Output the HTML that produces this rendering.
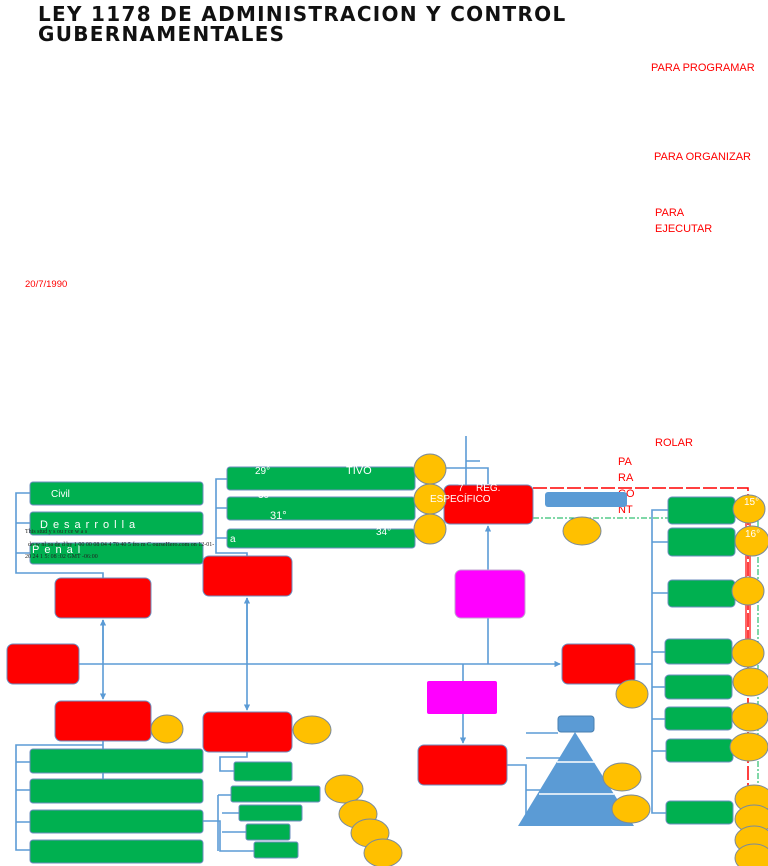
<!DOCTYPE html>
<html><head><meta charset="utf-8"><style>
html,body{margin:0;padding:0;background:#fff;width:768px;height:866px;overflow:hidden}
svg{display:block}
text{font-family:"Liberation Sans",sans-serif}
</style></head><body>
<svg width="768" height="866" viewBox="0 0 768 866" xmlns="http://www.w3.org/2000/svg">
<defs>
<marker id="a" markerWidth="4" markerHeight="4" refX="3.5" refY="2" orient="auto"><path d="M0,0L4,2L0,4z" fill="#5b9bd5"/></marker>
</defs>
<g font-weight="bold" font-size="20" fill="#111" letter-spacing="1.3">
<text x="38" y="21" style="font-family:'DejaVu Sans',sans-serif">LEY 1178 DE ADMINISTRACION Y CONTROL</text>
<text x="38" y="41" style="font-family:'DejaVu Sans',sans-serif">GUBERNAMENTALES</text>
</g>
<g fill="#ff0000" font-size="11">
<text x="651" y="71">PARA PROGRAMAR</text>
<text x="654" y="160">PARA ORGANIZAR</text>
<text x="655" y="216">PARA</text>
<text x="655" y="232">EJECUTAR</text>
<text x="25" y="287" font-size="9.5">20/7/1990</text>
<text x="655" y="446">ROLAR</text>
<text x="618" y="465">PA</text>
<text x="618" y="481">RA</text>
<text x="618" y="497">CO</text>
<text x="618" y="513">NT</text>
</g>
<g stroke="#5b9bd5" stroke-width="1.6" fill="none">
<path d="M466,436V461H480M466,461V487"/>
<path d="M446,468H488V487"/>
<path d="M30,493H16V573H103V578"/>
<path d="M16,523H30M16,553H30"/>
<path d="M227,479H216V553H227M216,508H227M216,538H227M216,553H247V556"/>
<path d="M79,664H560" marker-end="url(#a)"/>
<path d="M103,620V699" marker-end="url(#a)"/>
<path d="M103,660V620" marker-end="url(#a)"/>
<path d="M247,598V710" marker-end="url(#a)"/>
<path d="M247,660V598" marker-end="url(#a)"/>
<path d="M488,664V526" marker-end="url(#a)"/>
<path d="M463,664V681M463,714V743" marker-end="url(#a)"/>
<path d="M103,741V745H16V850H30M16,762H30M16,790H30M16,822H30M103,745V790H16"/>
<path d="M247,752V757H220V771H234"/>
<path d="M203,821H220V851H254M218,795V851M218,795H231M222,813H239M222,832H246"/>
<path d="M507,765H526V816H540M526,733H558M526,758H563M526,790H545"/>
<path d="M635,664H652V510H668M652,542H668M652,593H668M652,664V813H666M652,652H665M652,687H665M652,719H665M652,751H666"/>
</g>
<path d="M533,488H748V866" stroke="#ff0000" stroke-width="1.5" fill="none" stroke-dasharray="14,3"/>
<path d="M746,500V640M750,500V640" stroke="#ff0000" stroke-width="1.2" fill="none"/>
<path d="M533,518H758V800" stroke="#00b050" stroke-width="1" fill="none" stroke-dasharray="6,2,2,2"/>
<g fill="#00b050" stroke="#6c8ebf" stroke-width="1">
<rect x="30" y="482" width="173" height="23" rx="3"/>
<rect x="30" y="512" width="173" height="23" rx="3"/>
<rect x="30" y="543" width="173" height="21" rx="3"/>
<rect x="227" y="467" width="188" height="23" rx="3"/>
<rect x="227" y="497" width="188" height="23" rx="3"/>
<rect x="227" y="529" width="188" height="19" rx="3"/>
<rect x="668" y="497" width="67" height="27" rx="4"/>
<rect x="668" y="528" width="67" height="28" rx="4"/>
<rect x="668" y="580" width="67" height="27" rx="4"/>
<rect x="665" y="639" width="67" height="25" rx="4"/>
<rect x="665" y="675" width="67" height="24" rx="4"/>
<rect x="665" y="707" width="67" height="23" rx="4"/>
<rect x="666" y="739" width="67" height="23" rx="4"/>
<rect x="666" y="801" width="67" height="23" rx="4"/>
<rect x="30" y="749" width="173" height="24" rx="3"/>
<rect x="30" y="779" width="173" height="24" rx="3"/>
<rect x="30" y="810" width="173" height="23" rx="3"/>
<rect x="30" y="840" width="173" height="23" rx="3"/>
<rect x="234" y="762" width="58" height="19" rx="2"/>
<rect x="231" y="786" width="89" height="16" rx="2"/>
<rect x="239" y="805" width="63" height="16" rx="2"/>
<rect x="246" y="824" width="44" height="16" rx="2"/>
<rect x="254" y="842" width="44" height="16" rx="2"/>
</g>
<g fill="#ff0000" stroke="#6c8ebf" stroke-width="1">
<rect x="444" y="485" width="89" height="39" rx="6"/>
<rect x="55" y="578" width="96" height="40" rx="6"/>
<rect x="203" y="556" width="89" height="40" rx="6"/>
<rect x="7" y="644" width="72" height="40" rx="6"/>
<rect x="55" y="701" width="96" height="40" rx="6"/>
<rect x="203" y="712" width="89" height="40" rx="6"/>
<rect x="562" y="644" width="73" height="40" rx="6"/>
<rect x="418" y="745" width="89" height="40" rx="6"/>
</g>
<rect x="455" y="570" width="70" height="48" rx="6" fill="#ff00ff" stroke="#c0a0d0"/>
<rect x="427" y="681" width="70" height="33" rx="2" fill="#ff00ff"/>
<rect x="545" y="492" width="82" height="15" rx="3" fill="#5b9bd5"/>
<rect x="558" y="716" width="36" height="16" rx="3" fill="#5b9bd5" stroke="#4a7fb0"/>
<polygon points="575,732 518,826 634,826" fill="#5b9bd5"/>
<path d="M557,762H595M539,794H614" stroke="#fff" stroke-width="1.5"/>
<g fill="#ffc000" stroke="#7a8a9a" stroke-width="1">
<ellipse cx="430" cy="469" rx="16" ry="15"/>
<ellipse cx="430" cy="499" rx="16" ry="15"/>
<ellipse cx="430" cy="529" rx="16" ry="15"/>
<ellipse cx="582" cy="531" rx="19" ry="14"/>
<ellipse cx="167" cy="729" rx="16" ry="14"/>
<ellipse cx="312" cy="730" rx="19" ry="14"/>
<ellipse cx="632" cy="694" rx="16" ry="14"/>
<ellipse cx="622" cy="777" rx="19" ry="14"/>
<ellipse cx="631" cy="809" rx="19" ry="14"/>
<ellipse cx="344" cy="789" rx="19" ry="14"/>
<ellipse cx="358" cy="814" rx="19" ry="14"/>
<ellipse cx="370" cy="833" rx="19" ry="14"/>
<ellipse cx="383" cy="853" rx="19" ry="14"/>
<ellipse cx="749" cy="509" rx="16" ry="14"/>
<ellipse cx="752" cy="541" rx="17" ry="15"/>
<ellipse cx="748" cy="591" rx="16" ry="14"/>
<ellipse cx="748" cy="653" rx="16" ry="14"/>
<ellipse cx="751" cy="682" rx="18" ry="14"/>
<ellipse cx="750" cy="717" rx="18" ry="14"/>
<ellipse cx="749" cy="747" rx="19" ry="14"/>
<ellipse cx="754" cy="799" rx="19" ry="14"/>
<ellipse cx="754" cy="819" rx="19" ry="14"/>
<ellipse cx="754" cy="840" rx="19" ry="14"/>
<ellipse cx="754" cy="858" rx="19" ry="14"/>
</g>
<g fill="#fff" font-size="10">
<text x="51" y="497">Civil</text>
<text x="40" y="528" font-size="11" letter-spacing="5">Desarrolla</text>
<text x="32" y="553" font-size="11" letter-spacing="5">Penal</text>
<text x="255" y="474">29°</text>
<text x="346" y="474" font-size="11">TIVO</text>
<text x="258" y="498">30</text>
<text x="270" y="519" font-size="11">31°</text>
<text x="376" y="535">34°</text>
<text x="230" y="542">a</text>
<text x="476" y="491">REG.</text>
<text x="458" y="491">7</text>
<text x="430" y="502">ESPECÍFICO</text>
<text x="744" y="505">15°</text>
<text x="745" y="537">16°</text>
</g>
<g fill="#222" font-size="6">
<text x="25" y="533" style="font-family:'Liberation Serif',serif">This  stud  y  s  ou  r  ce  w  a  s</text>
<text x="28" y="546" style="font-family:'Liberation Serif',serif">do  w  nl  oa  de  d   by  1  00  00  08   04 4  70  40 5   fro  m  C  ourseHero.com on 12-01-</text>
<text x="25" y="558" style="font-family:'Liberation Serif',serif">20  24  1  5:  08  :02 GMT -06:00</text>
</g>
</svg>
</body></html>
